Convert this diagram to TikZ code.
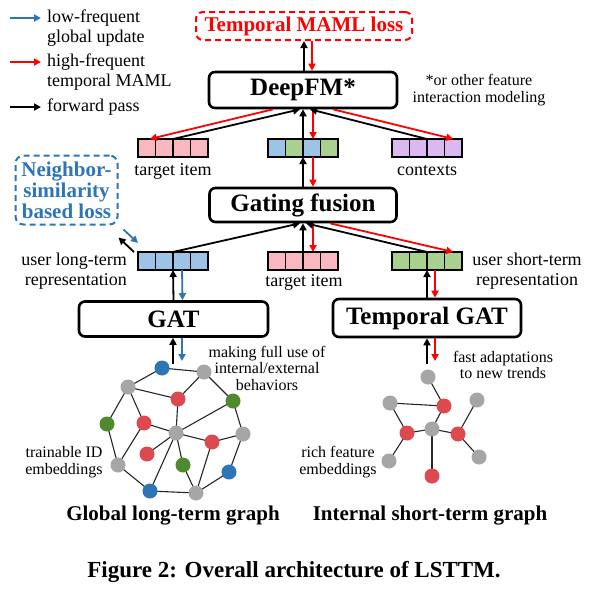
\documentclass[tikz,border=0pt]{standalone}
\usepackage{fontspec}
\setmainfont{Liberation Serif}
\usetikzlibrary{arrows.meta,calc,backgrounds}
\definecolor{cpink}{HTML}{F9B8C0}
\definecolor{cblue}{HTML}{9DC3E6}
\definecolor{cgreen}{HTML}{A9D18E}
\definecolor{cpurple}{HTML}{DBB8F0}
\definecolor{ablue}{HTML}{2E75B6}
\definecolor{nblue}{HTML}{2E75B6}
\definecolor{nred}{HTML}{DC4A50}
\definecolor{ngreen}{HTML}{4F8A2F}
\definecolor{ngray}{HTML}{A6A6A6}
\newcommand\cellrow[6]{%
  \node[cell,fill=#3] (#1a) at ($(#2)+(-26.25,0)$) {};
  \node[cell,fill=#4] (#1b) at ($(#2)+(-8.75,0)$) {};
  \node[cell,fill=#5] (#1c) at ($(#2)+(8.75,0)$) {};
  \node[cell,fill=#6] (#1d) at ($(#2)+(26.25,0)$) {};
}
\begin{document}
\begin{tikzpicture}[x=1pt,y=-1pt,
  bigbox/.style={draw, line width=2.6pt, rounded corners=6pt, fill=white, inner sep=0pt,
     font=\fontsize{25}{28}\selectfont\bfseries},
  cell/.style={draw, line width=1.3pt, minimum width=17.5pt, minimum height=18pt, inner sep=0pt, outer sep=0pt},
  fwd/.style={draw=black, line width=1.8pt, -{Triangle[length=7pt,width=7pt]}},
  maml/.style={draw=red, line width=1.8pt, -{Triangle[length=7pt,width=7pt]}},
  glob/.style={draw=ablue, line width=1.8pt, -{Triangle[length=7pt,width=7pt]}},
  lbl/.style={font=\fontsize{18}{20}\selectfont, align=center, inner sep=0pt},
  sm/.style={font=\fontsize{16}{16.5}\selectfont, align=center, inner sep=0pt},
  gn/.style={circle, minimum size=15pt, inner sep=0pt},
  ge/.style={draw=black!85, line width=1.1pt}
]
\useasboundingbox (0,0) rectangle (591,590);

% legend
\coordinate (lbs) at (10,18); \coordinate (lbe) at (41,18);
\coordinate (lrs) at (10,62); \coordinate (lre) at (41,62);
\coordinate (lks) at (10,107); \coordinate (lke) at (41,107);
\draw[glob] (lbs) -- (lbe);
\draw[maml] (lrs) -- (lre);
\draw[fwd] (lks) -- (lke);
\node[lbl, align=left, anchor=west] (legb) at (47,28) {low-frequent\\global update};
\node[lbl, align=left, anchor=west] (legr) at (47,72) {high-frequent\\temporal MAML};
\node[lbl, align=left, anchor=west] (legk) at (47,107) {forward pass};

% main boxes
\node[draw=red, dashed, dash pattern=on 6pt off 4pt, line width=2pt, rounded corners=7pt,
  minimum width=216pt, minimum height=28pt, inner sep=0pt, text=red,
  font=\fontsize{21}{24}\selectfont\bfseries] (loss) at (304,26) {Temporal MAML loss};
\node[bigbox, minimum width=188pt, minimum height=36pt] (deepfm) at (303,90) {DeepFM*};
\node[sm] (note) at (479,90) {*or other feature\\interaction modeling};
\node[bigbox, minimum width=187pt, minimum height=34pt] (gating) at (303,205) {Gating fusion};
\node[bigbox, minimum width=189pt, minimum height=35pt] (gat) at (173.5,319) {GAT};
\node[bigbox, minimum width=188pt, minimum height=38pt] (tgat) at (427,318) {Temporal GAT};

% row 1
\coordinate (r1t) at (173,148); \coordinate (r1m) at (303,148); \coordinate (r1c) at (427,148);
\cellrow{ta}{r1t}{cpink}{cpink}{cpink}{cpink}
\cellrow{mi}{r1m}{cblue}{cgreen}{cblue}{cgreen}
\cellrow{co}{r1c}{cpurple}{cpurple}{cpurple}{cpurple}
\node[lbl] (tal) at (173,171) {target item};
\node[lbl] (col) at (427,171) {contexts};

% row 2
\coordinate (r2l) at (173,261); \coordinate (r2t) at (303,261); \coordinate (r2s) at (427,261);
\cellrow{lo}{r2l}{cblue}{cblue}{cblue}{cblue}
\cellrow{tb}{r2t}{cpink}{cpink}{cpink}{cpink}
\cellrow{sh}{r2s}{cgreen}{cgreen}{cgreen}{cgreen}
\node[lbl] (tbl) at (304,282) {target item};
\node[lbl, align=right, anchor=east] (lol) at (127,271) {user long-term\\representation};
\node[lbl] (shl) at (527,271) {user short-term\\representation};

% neighbor box
\node[draw=ablue, dashed, dash pattern=on 6pt off 4pt, line width=2pt, rounded corners=8pt,
  minimum width=102pt, minimum height=69pt, inner sep=0pt, text=ablue, align=center,
  font=\fontsize{21}{21}\selectfont\bfseries] (nb) at (66.5,190) {Neighbor-\\similarity\\based loss};

% arrows deepfm <-> loss
\draw[fwd] ([xshift=1pt]deepfm.north) -- ([xshift=0pt]loss.south);
\draw[maml] ([xshift=8pt]loss.south) -- ([xshift=9pt]deepfm.north);
% row1 <-> deepfm
\draw[fwd] (tab.north east) -- ([xshift=-3pt]deepfm.south);
\draw[maml] ([xshift=-30pt]deepfm.south) -- ([xshift=3pt]taa.north);
\draw[fwd] (mib.north east) -- (deepfm.south);
\draw[maml] ([xshift=10pt]deepfm.south) -- ([xshift=10pt]mib.north east);
\draw[fwd] (cob.north east) -- ([xshift=7pt]deepfm.south);
\draw[maml] ([xshift=30pt]deepfm.south) -- ([xshift=0pt]cod.north);
% row1 mid <-> gating
\draw[fwd] (gating.north) -- (mib.south east);
\draw[maml] ([xshift=10pt]mib.south east) -- ([xshift=10pt]gating.north);
% row2 <-> gating
\draw[fwd] (lob.north east) -- ([xshift=-3pt]gating.south);
\draw[fwd] (tbb.north east) -- (gating.south);
\draw[maml] ([xshift=10pt]gating.south) -- ([xshift=10pt]tbb.north east);
\draw[fwd] (shb.north east) -- ([xshift=3pt]gating.south);
\draw[maml] ([xshift=27pt]gating.south) -- (shd.north);
% neighbor arrows
\draw[fwd] ([xshift=-4pt]loa.north west) -- ($(nb.south east)+(0,12)$);
\draw[glob] ($(nb.south east)+(5,4)$) -- ($(loa.north west)+(0,-9)$);
% gat <-> row2
\draw[fwd] (gat.north) -- (lob.south east);
\draw[glob] ([xshift=9pt]lob.south east) -- ([xshift=9pt]gat.north);
\draw[fwd] (tgat.north) -- (shb.south east);
\draw[maml] ([xshift=8pt]shb.south east) -- ([xshift=8pt]tgat.north);
% graphs -> gat
\coordinate (gk) at (173,364); \coordinate (gb) at (182,361);
\coordinate (tk) at (427,364); \coordinate (tr) at (435,361);
\draw[fwd] (gk) -- (gat.south -| gk);
\draw[glob] (gat.south -| gb) -- (gb);
\draw[fwd] (tk) -- (tgat.south -| tk);
\draw[maml] (tgat.south -| tr) -- (tr);

\node[sm] (mk) at (267,368) {making full use of\\internal/external\\behaviors};
\node[sm] (fa) at (503,365) {fast adaptations\\to new trends};

% global graph
\node[gn, fill=nblue] (n1) at (162,368) {};
\node[gn, fill=ngray] (n2) at (204,372) {};
\node[gn, fill=ngray] (n3) at (128,387) {};
\node[gn, fill=nred] (n4) at (178,399) {};
\node[gn, fill=ngreen] (n5) at (233,401) {};
\node[gn, fill=ngreen] (n6) at (107,424) {};
\node[gn, fill=nred] (n7) at (144,423) {};
\node[gn, fill=ngray] (n8) at (176,433) {};
\node[gn, fill=ngray] (n9) at (243,434) {};
\node[gn, fill=nred] (n10) at (212,442) {};
\node[gn, fill=nred] (n11) at (147,454) {};
\node[gn, fill=ngreen] (n12) at (183,465) {};
\node[gn, fill=ngray] (n13) at (118,465) {};
\node[gn, fill=nblue] (n14) at (229,472) {};
\node[gn, fill=nblue] (n15) at (150,491) {};
\node[gn, fill=ngray] (n16) at (196,493) {};
\begin{pgfonlayer}{background}
\foreach \a/\b in {n1/n2,n1/n3,n3/n4,n2/n4,n4/n8,n2/n5,n5/n9,n5/n8,n3/n6,n3/n7,n7/n8,n6/n13,n7/n13,n8/n10,n10/n9,n8/n11,n8/n12,n8/n15,n12/n16,n10/n16,n9/n14,n14/n16,n13/n15,n15/n16}
  \draw[ge] (\a.center) -- (\b.center);
\end{pgfonlayer}

% short graph
\node[gn, fill=ngray] (s1) at (428,377) {};
\node[gn, fill=ngray] (s2) at (390,403) {};
\node[gn, fill=nred] (s3) at (444,406) {};
\node[gn, fill=ngray] (s4) at (477,400) {};
\node[gn, fill=nred] (s5) at (407,433) {};
\node[gn, fill=ngray] (s6) at (432,429) {};
\node[gn, fill=nred] (s7) at (458,434) {};
\node[gn, fill=ngray] (s8) at (389,461) {};
\node[gn, fill=ngray] (s9) at (479,457) {};
\node[gn, fill=nred] (s10) at (432,476) {};
\begin{pgfonlayer}{background}
\foreach \a/\b in {s1/s3,s2/s3,s2/s5,s3/s6,s5/s6,s6/s7,s4/s7,s7/s9,s5/s8,s6/s10}
  \draw[ge] (\a.center) -- (\b.center);
\end{pgfonlayer}

\node[sm] (tid) at (64,462) {trainable ID\\embeddings};
\node[sm] (rfe) at (338,462) {rich feature\\embeddings};
\node[font=\fontsize{21}{24}\selectfont\bfseries, inner sep=0pt] (glt) at (173,516) {Global long-term graph};
\node[font=\fontsize{21}{24}\selectfont\bfseries, inner sep=0pt] (ist) at (430,516) {Internal short-term graph};
\node[font=\fontsize{23}{26}\selectfont\bfseries, inner sep=0pt] (cap) at (294,572) {Figure 2: Overall architecture of LSTTM.};
\end{tikzpicture}
\end{document}
